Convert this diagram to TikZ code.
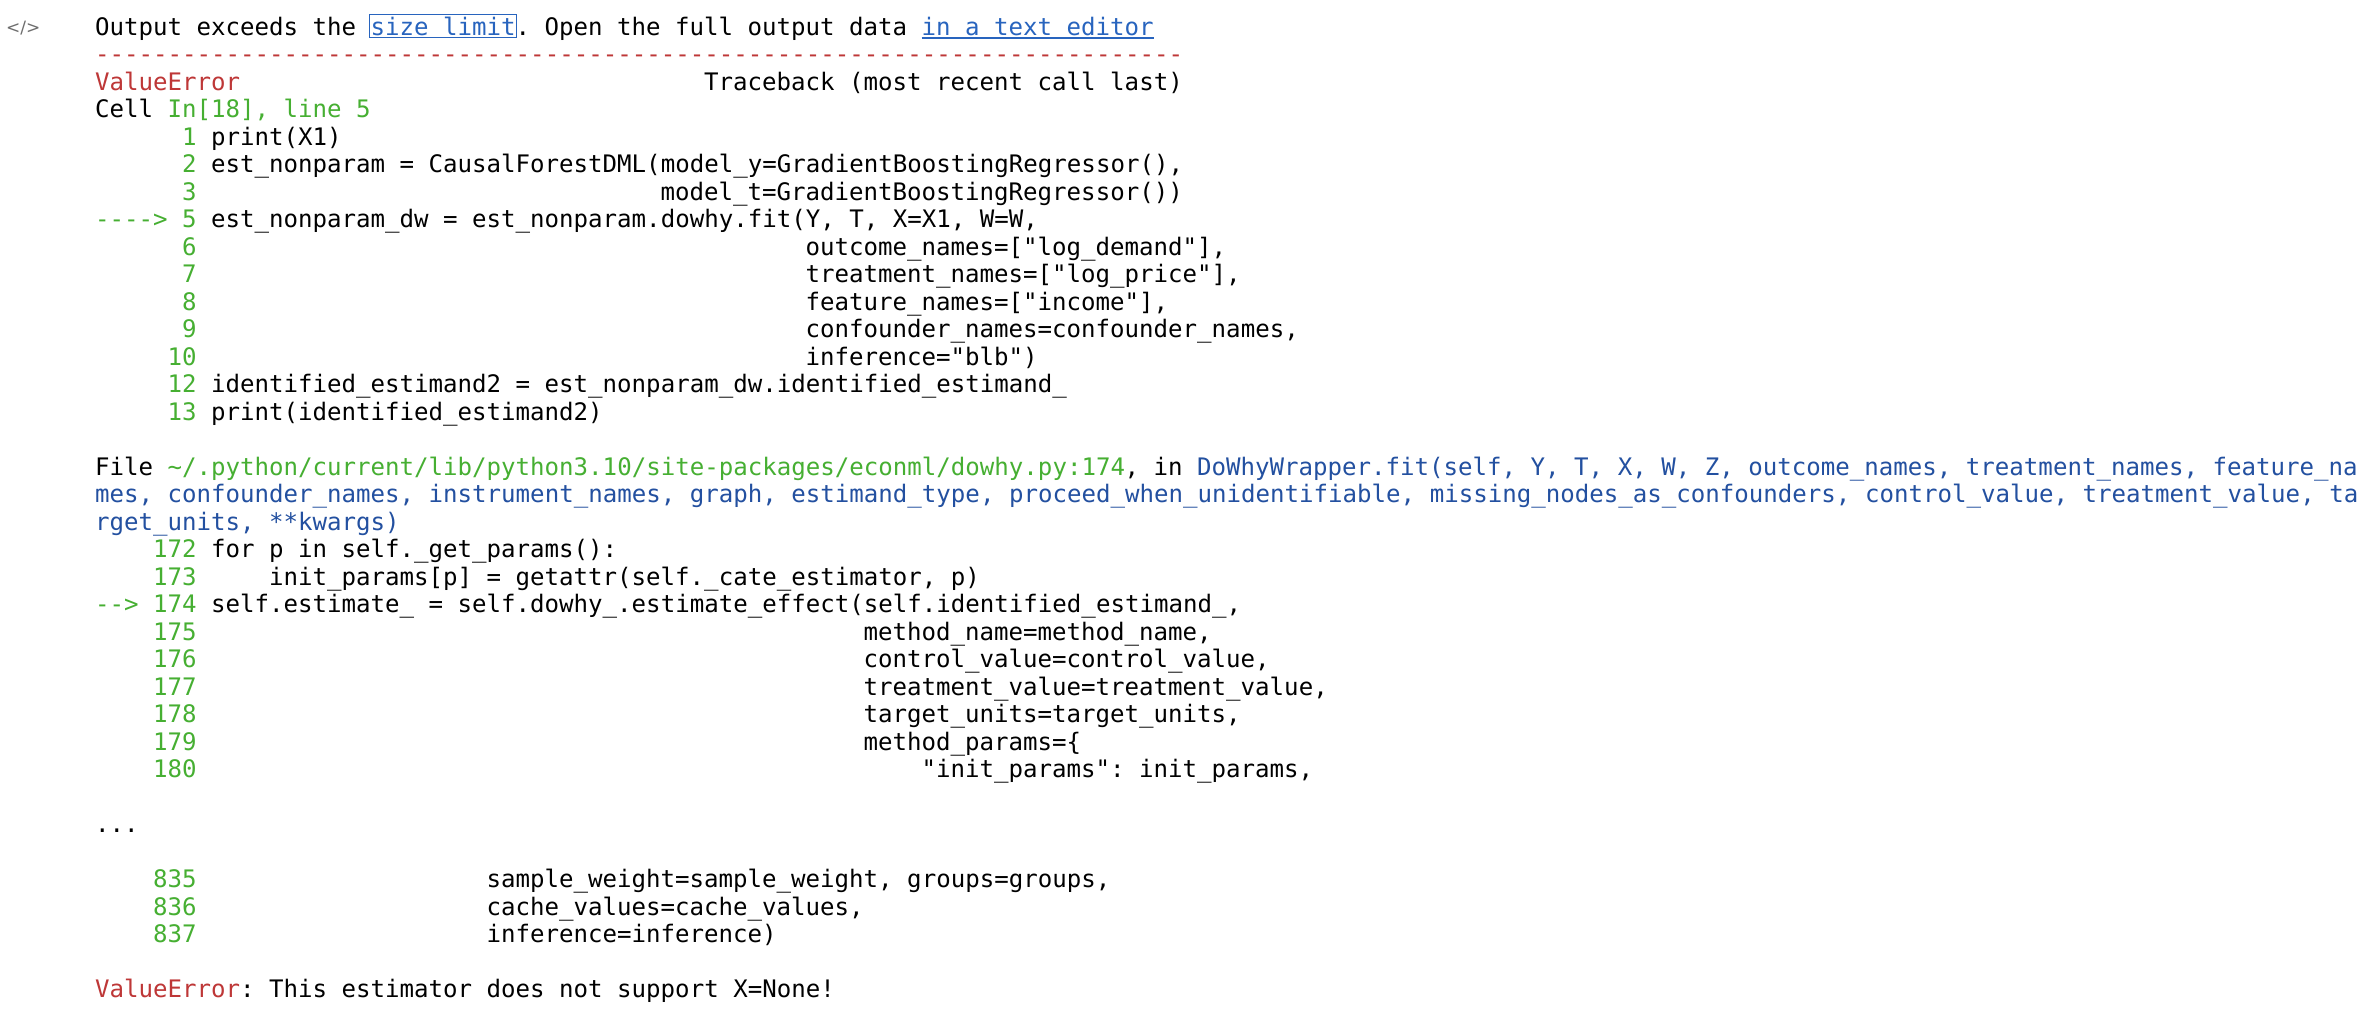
\documentclass[tikz,border=0pt]{standalone}
\usepackage{fontspec}
\usetikzlibrary{fit}
\setmonofont{DejaVu Sans Mono}
\newfontfamily\iconfont{DejaVu Sans}
\definecolor{errred}{RGB}{190,55,55}
\definecolor{numgreen}{RGB}{70,175,50}
\definecolor{fnblue}{RGB}{35,80,160}
\definecolor{linkblue}{RGB}{40,100,190}
\definecolor{icongray}{RGB}{110,110,110}
\newcounter{tcount}
\tikzset{codetxt/.style={anchor=base west,inner sep=0pt,outer sep=0pt,font=\ttfamily\fontsize{24.1}{27.5}\selectfont}}
\newcommand\cl[4]{\stepcounter{tcount}\node[codetxt,text=#3] (t\arabic{tcount}) at ({95+14.5*#1},{-(35+27.5*#2)}) {\detokenize{#4}};}
\begin{document}
\begin{tikzpicture}[x=1pt,y=1pt]
\useasboundingbox (0,0) rectangle (2374,-1010);
\fill[white] (0,0) rectangle (2374,-1010);
\node[anchor=base west,inner sep=0pt,text=icongray,font=\iconfont\fontsize{17}{20}\selectfont] (icon) at (6,-33) {</>};
% row 0
\cl{0}{0}{black}{Output exceeds the }
\cl{19}{0}{linkblue}{size limit}
\node[draw=linkblue,line width=1.6pt,inner xsep=1pt,inner ysep=2pt,fit=(t2)] (linkbox) {};
\cl{29}{0}{black}{. Open the full output data }
\cl{57}{0}{linkblue}{in a text editor}
\draw[linkblue,line width=1.2pt] ([yshift=-3pt]t4.base west) -- ([yshift=-3pt]t4.base east);
\cl{0}{1}{errred}{---------------------------------------------------------------------------}
\cl{0}{2}{errred}{ValueError}
\cl{42}{2}{black}{Traceback (most recent call last)}
\cl{0}{3}{black}{Cell }
\cl{5}{3}{numgreen}{In[18], line 5}
\cl{6}{4}{numgreen}{1}
\cl{8}{4}{black}{print(X1)}
\cl{6}{5}{numgreen}{2}
\cl{8}{5}{black}{est_nonparam = CausalForestDML(model_y=GradientBoostingRegressor(),}
\cl{6}{6}{numgreen}{3}
\cl{39}{6}{black}{model_t=GradientBoostingRegressor())}
\cl{0}{7}{numgreen}{---->}
\cl{6}{7}{numgreen}{5}
\cl{8}{7}{black}{est_nonparam_dw = est_nonparam.dowhy.fit(Y, T, X=X1, W=W,}
\cl{6}{8}{numgreen}{6}
\cl{49}{8}{black}{outcome_names=["log_demand"],}
\cl{6}{9}{numgreen}{7}
\cl{49}{9}{black}{treatment_names=["log_price"],}
\cl{6}{10}{numgreen}{8}
\cl{49}{10}{black}{feature_names=["income"],}
\cl{6}{11}{numgreen}{9}
\cl{49}{11}{black}{confounder_names=confounder_names,}
\cl{5}{12}{numgreen}{10}
\cl{49}{12}{black}{inference="blb")}
\cl{5}{13}{numgreen}{12}
\cl{8}{13}{black}{identified_estimand2 = est_nonparam_dw.identified_estimand_}
\cl{5}{14}{numgreen}{13}
\cl{8}{14}{black}{print(identified_estimand2)}
% File block
\cl{0}{16}{black}{File }
\cl{5}{16}{numgreen}{~/.python/current/lib/python3.10/site-packages/econml/dowhy.py:174}
\cl{71}{16}{black}{, in }
\cl{76}{16}{fnblue}{DoWhyWrapper.fit(self, Y, T, X, W, Z, outcome_names, treatment_names, feature_na}
\cl{0}{17}{fnblue}{mes, confounder_names, instrument_names, graph, estimand_type, proceed_when_unidentifiable, missing_nodes_as_confounders, control_value, treatment_value, ta}
\cl{0}{18}{fnblue}{rget_units, **kwargs)}
\cl{4}{19}{numgreen}{172}
\cl{8}{19}{black}{for p in self._get_params():}
\cl{4}{20}{numgreen}{173}
\cl{12}{20}{black}{init_params[p] = getattr(self._cate_estimator, p)}
\cl{0}{21}{numgreen}{-->}
\cl{4}{21}{numgreen}{174}
\cl{8}{21}{black}{self.estimate_ = self.dowhy_.estimate_effect(self.identified_estimand_,}
\cl{4}{22}{numgreen}{175}
\cl{53}{22}{black}{method_name=method_name,}
\cl{4}{23}{numgreen}{176}
\cl{53}{23}{black}{control_value=control_value,}
\cl{4}{24}{numgreen}{177}
\cl{53}{24}{black}{treatment_value=treatment_value,}
\cl{4}{25}{numgreen}{178}
\cl{53}{25}{black}{target_units=target_units,}
\cl{4}{26}{numgreen}{179}
\stepcounter{tcount}\node[codetxt] (mp) at ({95+14.5*53},{-(35+27.5*26)}) {method\_params=\{};
\cl{4}{27}{numgreen}{180}
\cl{57}{27}{black}{"init_params": init_params,}
\cl{0}{29}{black}{...}
\cl{4}{31}{numgreen}{835}
\cl{27}{31}{black}{sample_weight=sample_weight, groups=groups,}
\cl{4}{32}{numgreen}{836}
\cl{27}{32}{black}{cache_values=cache_values,}
\cl{4}{33}{numgreen}{837}
\cl{27}{33}{black}{inference=inference)}
\cl{0}{35}{errred}{ValueError}
\cl{10}{35}{black}{: This estimator does not support X=None!}
\end{tikzpicture}
\end{document}
